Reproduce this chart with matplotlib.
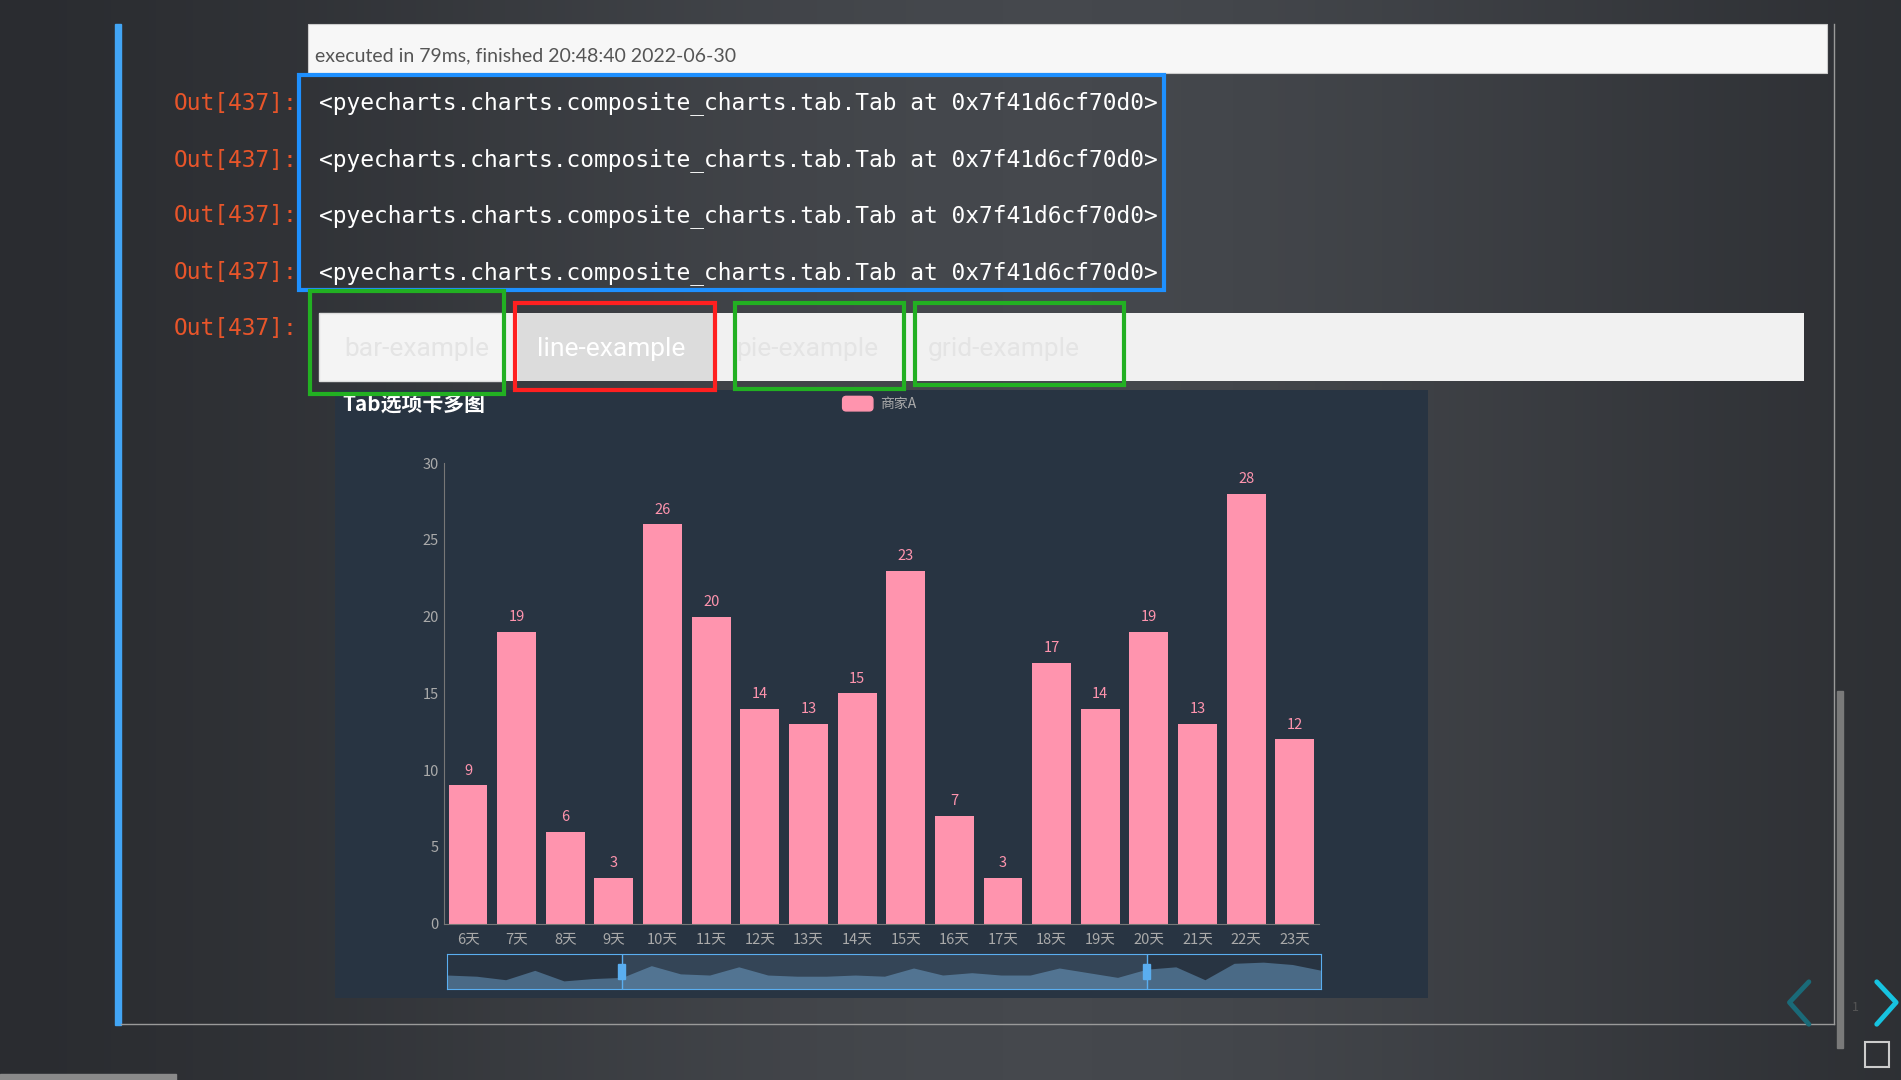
import matplotlib
matplotlib.use("Agg")
import matplotlib.pyplot as plt
from matplotlib.patches import Rectangle
import numpy as np

plt.rcParams['font.family'] = ['Noto Sans CJK SC', 'DejaVu Sans']

categories = ["6天","7天","8天","9天","10天","11天","12天","13天","14天","15天","16天","17天","18天","19天","20天","21天","22天","23天"]
values = [9,19,6,3,26,20,14,13,15,23,7,3,17,14,19,13,28,12]
shadow = [12,11,8,16,7,9,10,20,13,12,19,12,11,11,12,11,18,12,14,12,12,18,14,10,17,19,8,22,23,21,16]
yticks = [0,5,10,15,20,25,30]
out_lines = ["<pyecharts.charts.composite_charts.tab.Tab at 0x7f41d6cf70d0>"]*4
tabs = ["bar-example","line-example","pie-example","grid-example"]

W, H = 1568, 891
fig = plt.figure(figsize=(19.01, 10.80), dpi=100)
bg = fig.add_axes([0,0,1,1])
bg.set_xlim(0,W); bg.set_ylim(H,0); bg.axis('off')
grad = np.linspace(0,1,256)[None,:]
gx = np.exp(-((grad-0.55)**2)/0.15)
bg.imshow(gx, extent=[0,W,H,0], cmap=matplotlib.colors.LinearSegmentedColormap.from_list('g',['#2a2c30','#45484d']), aspect='auto', zorder=0)
def R(x0,y0,x1,y1,**kw):
    bg.add_patch(Rectangle((x0,y0),x1-x0,y1-y0,**kw))
R(95,20,100,846,color='#42a5f5',zorder=1)
bg.plot([100,1513],[845,845],color='#9a9a9a',lw=1,zorder=1)
bg.plot([1513,1513],[20,845],color='#9a9a9a',lw=1,zorder=1)
R(254,20,1507,60,facecolor='#f7f7f7',edgecolor='#cccccc',lw=0.8,zorder=2)
bg.text(260,46,"executed in 79ms, finished 20:48:40 2022-06-30",color='#555555',fontsize=14,va='center',family=['Lato','DejaVu Sans'],zorder=3)
ys = [85,132,178,225,271]
for y in ys:
    bg.text(143,y,"Out[437]:",color='#e8552a',fontsize=16.5,va='center',family='DejaVu Sans Mono',zorder=3)
for y,t in zip(ys[:4],out_lines):
    bg.text(263,y,t,color='white',fontsize=16.5,va='center',family='DejaVu Sans Mono',zorder=3)
R(247,62,960,239,fill=False,edgecolor='#1e90ff',lw=3,zorder=4)
R(263,258,1488,314,facecolor='#f1f1f1',zorder=2)
R(263,258,415,314,facecolor='#f4f4f4',edgecolor='#dddddd',zorder=2)
R(427,258,588,314,facecolor='#dcdcdc',zorder=2)
tabx = [344,504,666,828]
for i,(x,t) in enumerate(zip(tabx,tabs)):
    bg.text(x,288,t,color='white' if i==1 else '#e4e4e4',fontsize=19,ha='center',va='center',family=['Roboto','DejaVu Sans'],zorder=3)
R(256,240,416,325,fill=False,edgecolor='#22b022',lw=3,zorder=4)
R(425,250,590,322,fill=False,edgecolor='#ff2020',lw=3,zorder=4)
R(606,250,746,321,fill=False,edgecolor='#22b022',lw=3,zorder=4)
R(755,250,927,318,fill=False,edgecolor='#22b022',lw=3,zorder=4)
R(276,322,1178,823,facecolor='#283442',zorder=2)
bg.text(282,334,"Tab选项卡多图",color='white',fontsize=15,fontweight='bold',va='center',zorder=3)
bg.add_patch(matplotlib.patches.FancyBboxPatch((695,327),25,12,boxstyle='round,pad=0,rounding_size=3',color='#ff94ae',zorder=3))
bg.text(726,333,"商家A",color='#aaaaaa',fontsize=10,va='center',zorder=3)
# arrows
bg.plot([1492,1476,1492],[810,827,845],color='#1a6a78',lw=3.5,zorder=3,solid_capstyle='round')
bg.plot([1548,1564,1548],[810,827,845],color='#17c3e0',lw=3.5,zorder=3,solid_capstyle='round')
bg.text(1530,831,"1",color='#555555',fontsize=9,ha='center',va='center',zorder=3)
R(1515,570,1520,865,color='#7a7a7a',zorder=3)
R(0,886,145,891,color='#8a8a8a',zorder=3)
R(1538,860,1558,880,fill=False,edgecolor='#cccccc',lw=1.5,zorder=3)

def fa(x0,y0,x1,y1):
    return [x0/W, 1-y1/H, (x1-x0)/W, (y1-y0)/H]
ax = fig.add_axes(fa(366,382,1088,762))
ax.set_facecolor('none')
x = np.arange(len(categories))
ax.bar(x,values,width=0.8,color='#ff94ae',zorder=2)
for xi,v in zip(x,values):
    ax.text(xi,v+0.5,str(v),color='#ff94ae',fontsize=10.5,ha='center',va='bottom')
ax.set_xlim(-0.5,len(categories)-0.5); ax.set_ylim(0,30)
ax.set_yticks(yticks); ax.set_xticks(x); ax.set_xticklabels(categories)
ax.tick_params(colors='#aaaaaa',labelsize=10.5,length=0)
ax.tick_params(axis='x',pad=6)
for s in ['top','right']: ax.spines[s].set_visible(False)
for s in ['left','bottom']: ax.spines[s].set_color('#777777')
dz = fig.add_axes(fa(369,787,1090,816))
dz.set_facecolor('none')
sx = np.arange(len(shadow))
dz.fill_between(sx,shadow,0,color='#4a6a86',lw=0)
dz.set_xlim(0,len(shadow)-1); dz.set_ylim(0,30)
dz.set_xticks([]); dz.set_yticks([])
for s in dz.spines.values(): s.set_color('#5aaef0')
lo = (513-369)/(1090-369)*(len(shadow)-1); hi=(946-369)/(1090-369)*(len(shadow)-1)
dz.axvspan(lo,hi,color='#8fc4f0',alpha=0.12,lw=0)
for h in (lo,hi):
    dz.axvline(h,color='#5aaef0',lw=1)
    dz.add_patch(Rectangle((h-0.12,9),0.24,12,color='#5aaef0',zorder=5))
fig.savefig("out.png",dpi=100)
